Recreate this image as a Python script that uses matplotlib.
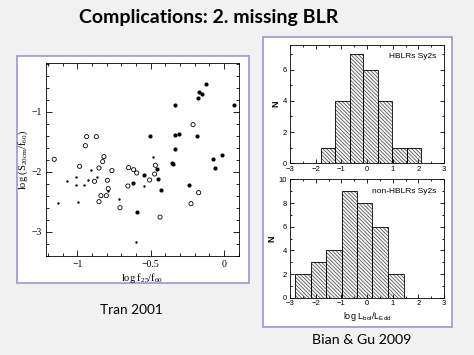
import matplotlib
matplotlib.use("Agg")
import matplotlib.pyplot as plt
from matplotlib.patches import Rectangle
from matplotlib.ticker import MultipleLocator

# Tran 2001: log f25/f60 vs log (S20cm/f60)
open_x = [-1.157, -0.936, -0.945, -0.984, -0.870, -0.818, -0.827, -0.852, -0.764,
          -0.882, -0.795, -0.789, -0.839, -0.802, -0.852, -0.709, -0.650, -0.616,
          -0.595, -0.655, -0.507, -0.473, -0.468, -0.436, -0.211, -0.173, -0.225]
open_y = [-1.794, -1.417, -1.567, -1.911, -1.417, -1.750, -1.833, -1.939, -1.983,
          -2.161, -2.144, -2.283, -2.400, -2.400, -2.500, -2.600, -1.933, -1.967,
          -2.022, -2.239, -2.139, -2.039, -1.894, -2.756, -1.217, -2.350, -2.533]

big_x = [-0.505, -0.336, -0.336, -0.305, -0.334, -0.352, -0.348, -0.184, -0.175,
         -0.170, -0.148, -0.120, 0.066, -0.073, -0.059, -0.011, -0.241, -0.545,
         -0.457, -0.452, -0.430, -0.593, -0.618]
big_y = [-1.411, -0.889, -1.394, -1.378, -1.617, -1.856, -1.878, -1.411, -0.767,
         -0.667, -0.706, -0.539, -0.883, -1.783, -1.933, -1.722, -2.222, -2.056,
         -1.950, -2.122, -2.311, -2.667, -2.194]

small_x = [-1.068, -1.134, -1.007, -1.007, -0.998, -0.952, -0.930, -0.905, -0.864,
           -0.793, -0.716, -0.598, -0.486, -0.543]
small_y = [-2.156, -2.517, -2.094, -2.222, -2.500, -2.222, -2.133, -1.978, -2.089,
           -2.317, -2.450, -3.172, -1.756, -2.239]

# Bian & Gu 2009: log Lbol/LEdd histograms
hblr_edges = [-1.79, -1.25, -0.66, -0.14, 0.44, 0.99, 1.55, 2.09]
hblr_counts = [1, 4, 7, 6, 4, 1, 1]
non_edges = [-2.81, -2.18, -1.60, -0.96, -0.40, 0.21, 0.81, 1.44]
non_counts = [2, 3, 4, 9, 8, 6, 2]

BG = "#f1f1f1"
FRAME = "#9a98d0"

plt.rcParams["mathtext.default"] = "regular"
plt.rcParams["hatch.linewidth"] = 0.5

fig = plt.figure(figsize=(4.74, 3.55), dpi=100)
fig.patch.set_facecolor(BG)

# white framed panels, behind the axes
for r in [(17 / 474, 1 - 283 / 355, 232 / 474, 227 / 355),
          (263 / 474, 1 - 327 / 355, 189 / 474, 290 / 355)]:
    fig.patches.append(Rectangle(r[:2], r[2], r[3], transform=fig.transFigure,
                                 facecolor="white", edgecolor=FRAME, lw=1.2, zorder=-5))

fig.text(208.5 / 474, 1 - 17 / 355, "Complications: 2. missing BLR", ha="center",
         va="center", fontsize=14, fontweight="bold", family="Lato")
fig.text(131 / 474, 1 - 310 / 355, "Tran 2001", ha="center", va="center",
         fontsize=9.8, family="Lato")
fig.text(362 / 474, 1 - 340 / 355, "Bian & Gu 2009", ha="center", va="center",
         fontsize=10.2, family="Lato")

serif = "Liberation Serif"
sans = "Liberation Sans"

# scatter panel
ax = fig.add_axes([46 / 474, 1 - 256 / 355, 193 / 474, 193 / 355])
ax.patch.set_alpha(0)
ax.scatter(open_x, open_y, s=9, facecolors="none", edgecolors="black", linewidths=0.6)
ax.scatter(big_x, big_y, s=9, color="black", linewidths=0)
ax.scatter(small_x, small_y, s=3, color="black", linewidths=0)
ax.set_xlim(-1.213, 0.102)
ax.set_ylim(-3.405, -0.19)
ax.xaxis.set_minor_locator(MultipleLocator(0.1))
ax.yaxis.set_minor_locator(MultipleLocator(0.2))
ax.tick_params(which="both", direction="in", top=True, right=True, width=0.6)
ax.tick_params(which="major", length=4, labelsize=7, pad=3)
ax.tick_params(which="minor", length=2)
ax.set_xticks([-1, -0.5, 0])
ax.set_xticklabels(["\u22121", "\u22120.5", "0"], family=serif)
ax.set_yticks([-1, -2, -3])
ax.set_yticklabels(["\u22121", "\u22122", "\u22123"], family=serif)
ax.set_xlabel(r"log f$_{25}$/f$_{60}$", fontsize=7.5, family=serif, labelpad=1)
ax.set_ylabel(r"log (S$_{20cm}$/f$_{60}$)", fontsize=7.5, family=serif, labelpad=1)
for sp in ax.spines.values():
    sp.set_linewidth(0.6)


def hist_panel(rect, edges, counts, ymax, label, yticks):
    h = fig.add_axes(rect)
    h.patch.set_alpha(0)
    h.stairs(counts, edges, fill=True, facecolor="#f6f6f6", edgecolor="#444444",
             hatch="\\" * 9, lw=0)
    h.bar(edges[:-1], counts, width=[b - a for a, b in zip(edges[:-1], edges[1:])],
          align="edge", facecolor="none", edgecolor="black", lw=0.6)
    h.set_xlim(-3, 3)
    h.set_ylim(0, ymax)
    h.xaxis.set_major_locator(MultipleLocator(1))
    h.xaxis.set_minor_locator(MultipleLocator(0.5))
    h.set_yticks(yticks)
    h.yaxis.set_minor_locator(MultipleLocator(1))
    h.tick_params(which="both", direction="in", top=True, right=True, width=0.6)
    h.tick_params(which="major", length=3, labelsize=5.5, pad=2)
    h.tick_params(which="minor", length=1.5)
    for t in h.get_xticklabels() + h.get_yticklabels():
        t.set_family(sans)
    h.set_ylabel("N", fontsize=6.5, family=sans, fontweight="bold", labelpad=2)
    h.text(0.95, 0.9, label, transform=h.transAxes, ha="right", va="center",
           fontsize=6, family=sans)
    for sp in h.spines.values():
        sp.set_linewidth(0.6)
    return h


hist_panel([290 / 474, 1 - 163.3 / 355, 154 / 474, 118.3 / 355], hblr_edges, hblr_counts,
           7.58, "HBLRs Sy2s", [0, 2, 4, 6])
hb = hist_panel([290 / 474, 1 - 297.7 / 355, 154 / 474, 118.3 / 355], non_edges, non_counts,
                10, "non-HBLRs Sy2s", [0, 2, 4, 6, 8, 10])
hb.set_xlabel(r"log L$_{bol}$/L$_{Edd}$", fontsize=6.5, family=sans, labelpad=2)

fig.savefig("out.png", dpi=100, facecolor=BG)
